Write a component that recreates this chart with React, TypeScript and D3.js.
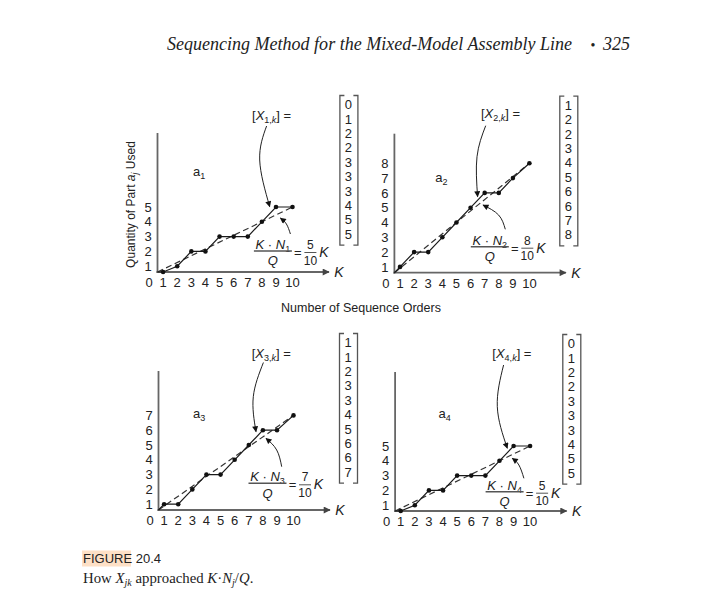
import React from "react";
import * as d3 from "d3";

// ---------- data ----------
const sequenceOrders = [1, 2, 3, 4, 5, 6, 7, 8, 9, 10];
const xTickLabels = ["0", "1", "2", "3", "4", "5", "6", "7", "8", "9", "10"];
const partA1 = [0, 1, 2, 2, 3, 3, 3, 4, 5, 5];
const partA2 = [1, 2, 2, 3, 4, 5, 6, 6, 7, 8];
const partA3 = [1, 1, 2, 3, 3, 4, 5, 6, 6, 7];
const partA4 = [0, 1, 2, 2, 3, 3, 3, 4, 5, 5];
const partTotals = [5, 8, 7, 5]; // N_j
const totalOrders = 10; // Q
const yTicks1 = [1, 2, 3, 4, 5];
const yTicks2 = [1, 2, 3, 4, 5, 6, 7, 8];
const yTicks3 = [1, 2, 3, 4, 5, 6, 7];
const yTicks4 = [1, 2, 3, 4, 5];

const seriesList = [partA1, partA2, partA3, partA4];
const yTickList = [yTicks1, yTicks2, yTicks3, yTicks4];

// ---------- layout (positions only) ----------
type P = [number, number];
const layout: {
  ox: number; oy: number; aLabel: P; xLabel: P; arrowA: P[]; arrowB: P[]; matrixX: number; formula: P;
}[] = [
  { ox: 149, oy: 281, aLabel: [44, -105], xLabel: [103, -161.5],
    arrowA: [[117.6, -155], [110.7, -121], [120.7, -74.3]],
    arrowB: [[141.4, -47], [137.4, -57], [131.4, -63]], matrixX: 199.4, formula: [123.9, -30] },
  { ox: 385.9, oy: 281.7, aLabel: [49.4, -100], xLabel: [95, -163.7],
    arrowA: [[99.8, -156], [91.1, -125], [91.7, -85]],
    arrowB: [[119.4, -52.4], [112.7, -66.7], [97.1, -76.7]], matrixX: 182.4, formula: [103.9, -35] },
  { ox: 150, oy: 519, aLabel: [43, -101.5], xLabel: [101.7, -161],
    arrowA: [[113.4, -156.5], [103.3, -122.3], [106, -87.3]],
    arrowB: [[131.7, -52.3], [126.7, -69], [116, -80.7]], matrixX: 198, formula: [117.5, -35.7] },
  { ox: 386.6, oy: 520, aLabel: [52, -102.5], xLabel: [105.7, -162],
    arrowA: [[117, -155], [110.7, -113.3], [120.7, -71.7]],
    arrowB: [[137.3, -41.7], [132.3, -55], [125.7, -61.7]], matrixX: 184.7, formula: [118, -28.3] },
];

const SANS = "Liberation Sans, Arial, sans-serif";
const SERIF = "Liberation Serif, Times New Roman, serif";
const TXT = "#222";
const AXIS = "#666";

const curve = d3.line<P>().curve(d3.curveNatural);

function Panel({ idx }: { idx: number }) {
  const L = layout[idx];
  const values = seriesList[idx];
  const yTicks = yTickList[idx];
  const j = idx + 1;
  const n = partTotals[idx];
  // the printed tick row is typeset as text, so the last step (to "10") is wider
  const x = d3.scaleLinear().domain([0, 9, 10]).range([L.ox, L.ox + 127, L.ox + 143.5]);
  const y = d3.scaleLinear().domain([0, 10]).range([L.oy, L.oy - 148]);
  const axisX = x(0) + 8.5;
  const axisY = y(0) - 9;
  const px = (k: number) => Math.max(x(k), axisX);
  const py = (v: number) => Math.min(y(v), axisY);
  const pts: P[] = [[px(0), py(0)], ...sequenceOrders.map((k, i) => [px(k), py(values[i])] as P)];
  const ideal: P[] = [0, totalOrders].map((k) => [px(k), py((k * n) / totalOrders)] as P);
  const rel = (p: P): P => [L.ox + p[0], L.oy + p[1]];
  const [fcx, fcy] = rel(L.formula);
  const mFirst = L.oy - 176.5;
  const mStep = 14.4;
  const mLast = mFirst + mStep * (values.length - 1);
  const mx = L.ox + L.matrixX;
  const bl = mx - 8.5, br = mx + 9.5, bt = mFirst - 9, bb = mLast + 11;
  return (
    <g>
      {/* axes */}
      <line x1={axisX} y1={L.oy - 148} x2={axisX} y2={axisY + 1} stroke={AXIS} strokeWidth={1.8} />
      <line x1={axisX - 1} y1={axisY} x2={L.ox + 180} y2={axisY} stroke={AXIS} strokeWidth={1.8} markerEnd="url(#axArrow)" />
      <text x={L.ox + 190} y={axisY + 5} textAnchor="middle" fontFamily={SANS} fontStyle="italic" fontSize={14} fill={TXT}>K</text>
      {/* tick labels */}
      {yTicks.map((v) => (
        <text key={"y" + v} x={L.ox - 1} y={y(v) + 4.6} textAnchor="middle" fontFamily={SANS} fontSize={13} fill={TXT}>{v}</text>
      ))}
      {xTickLabels.map((t, k) => (
        <text key={"x" + t} x={x(k)} y={L.oy + 5.8} textAnchor="middle" fontFamily={SANS} fontSize={13} fill={TXT}>{t}</text>
      ))}
      {/* ideal dashed line */}
      <path d={d3.line<P>()(ideal) || ""} fill="none" stroke="#333" strokeWidth={1.2} strokeDasharray="6,3.5" />
      {/* actual quantities */}
      <path d={d3.line<P>()(pts) || ""} fill="none" stroke="#1a1a1a" strokeWidth={1.2} />
      {pts.slice(1).map((p, i) => (
        <circle key={"p" + i} cx={p[0]} cy={p[1]} r={2.3} fill="#111" />
      ))}
      {/* a_j label */}
      <text x={rel(L.aLabel)[0]} y={rel(L.aLabel)[1]} fontFamily={SANS} fontSize={13} fill={TXT}>
        a<tspan fontSize={9} dy={3}>{j}</tspan>
      </text>
      {/* [X_j,k] = */}
      <text x={rel(L.xLabel)[0]} y={rel(L.xLabel)[1]} fontFamily={SANS} fontSize={13} fill={TXT}>
        [<tspan fontStyle="italic">X</tspan>
        <tspan fontSize={9} dy={3}>{j},</tspan>
        <tspan fontSize={9} fontStyle="italic">k</tspan>
        <tspan dy={-3}>] =</tspan>
      </text>
      {/* matrix */}
      <path d={`M${bl + 4.5},${bt}H${bl}V${bb}H${bl + 4.5}`} fill="none" stroke="#555" strokeWidth={1.3} />
      <path d={`M${br - 4.5},${bt}H${br}V${bb}H${br - 4.5}`} fill="none" stroke="#555" strokeWidth={1.3} />
      {values.map((v, i) => (
        <text key={"m" + i} x={mx} y={mFirst + i * mStep + 4.6} textAnchor="middle" fontFamily={SANS} fontSize={13} fill={TXT}>{v}</text>
      ))}
      {/* arrows */}
      <path d={curve(L.arrowA.map(rel)) || ""} fill="none" stroke="#222" strokeWidth={1} markerEnd="url(#annArrow)" />
      <path d={curve(L.arrowB.map(rel)) || ""} fill="none" stroke="#222" strokeWidth={1} markerEnd="url(#annArrow)" />
      {/* formula */}
      <text x={fcx} y={fcy - 2} textAnchor="middle" fontFamily={SANS} fontSize={13} fill={TXT}>
        <tspan fontStyle="italic">K</tspan> · <tspan fontStyle="italic">N</tspan>
        <tspan fontSize={9} dy={3}>{j}</tspan>
      </text>
      <line x1={fcx - 19} y1={fcy} x2={fcx + 19} y2={fcy} stroke="#555" strokeWidth={1.4} />
      <text x={fcx} y={fcy + 14.3} textAnchor="middle" fontFamily={SANS} fontStyle="italic" fontSize={13} fill={TXT}>Q</text>
      <text x={fcx + 25} y={fcy + 6} textAnchor="middle" fontFamily={SANS} fontSize={13} fill={TXT}>=</text>
      <text x={fcx + 37.5} y={fcy - 2} textAnchor="middle" fontFamily={SANS} fontSize={12} fill={TXT}>{n}</text>
      <line x1={fcx + 31.5} y1={fcy + 1.5} x2={fcx + 43.5} y2={fcy + 1.5} stroke="#555" strokeWidth={1} />
      <text x={fcx + 37.5} y={fcy + 13.5} textAnchor="middle" fontFamily={SANS} fontSize={12} fill={TXT}>{totalOrders}</text>
      <text x={fcx + 51} y={fcy + 6} textAnchor="middle" fontFamily={SANS} fontStyle="italic" fontSize={14} fill={TXT}>K</text>
    </g>
  );
}

export default function App() {
  return (
    <svg width={709} height={595} style={{ position: "absolute", left: 0, top: 0, background: "#fff" }}>
      <defs>
        <marker id="axArrow" viewBox="0 0 10 10" refX={9} refY={5} markerUnits="userSpaceOnUse" markerWidth={10} markerHeight={7} orient="auto">
          <path d="M0,0 L10,5 L0,10 z" fill="#444" />
        </marker>
        <marker id="annArrow" viewBox="0 0 10 10" refX={9} refY={5} markerUnits="userSpaceOnUse" markerWidth={8} markerHeight={6} orient="auto">
          <path d="M0,0 L10,5 L0,10 z" fill="#111" />
        </marker>
      </defs>
      {/* header */}
      <text x={167} y={50} fontFamily={SERIF} fontStyle="italic" fontSize={18} fill="#222" textLength={405} lengthAdjust="spacingAndGlyphs">
        Sequencing Method for the Mixed-Model Assembly Line
      </text>
      <text x={593} y={50} textAnchor="middle" fontFamily={SERIF} fontSize={14} fill="#222">•</text>
      <text x={603} y={50} fontFamily={SERIF} fontStyle="italic" fontSize={18} fill="#222">325</text>

      {/* y-axis title */}
      <text transform="translate(134.5,204.5) rotate(-90)" textAnchor="middle" fontFamily={SANS} fontSize={12} fill={TXT}>
        Quantity of Part <tspan fontStyle="italic">a</tspan><tspan fontSize={9} fontStyle="italic" dy={3}>j</tspan><tspan dy={-3}> Used</tspan>
      </text>
      {/* x title */}
      <text x={361} y={312} textAnchor="middle" fontFamily={SANS} fontSize={12.5} fill={TXT}>Number of Sequence Orders</text>

      {[0, 1, 2, 3].map((i) => <Panel key={i} idx={i} />)}

      {/* caption */}
      <rect x={82} y={550.5} width={49} height={16} fill="#fde0c6" />
      <text x={83} y={563} fontFamily={SANS} fontSize={13} fill="#222">FIGURE 20.4</text>
      <text x={83} y={583} fontFamily={SERIF} fontSize={14.8} fill="#222">
        How <tspan fontStyle="italic">X</tspan><tspan fontStyle="italic" fontSize={10} dy={3}>jk</tspan><tspan dy={-3}> approached </tspan>
        <tspan fontStyle="italic">K</tspan>·<tspan fontStyle="italic">N</tspan><tspan fontStyle="italic" fontSize={10} dy={3}>j</tspan><tspan dy={-3}>/</tspan><tspan fontStyle="italic">Q</tspan>.
      </text>
    </svg>
  );
}
